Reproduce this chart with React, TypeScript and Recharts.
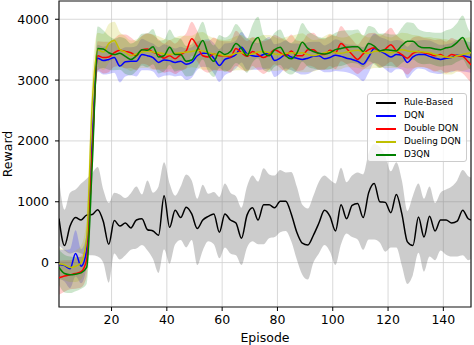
import React from "react";
import {
    ComposedChart,
    Line,
    Area,
    XAxis,
    YAxis,
    CartesianGrid,
    ReferenceArea,
} from "recharts";

// episodes sampled every 2nd step, plus the last one
const EPISODES = Array.from({length: 75}, (_, i) => 1 + 2 * i).concat([150]);

const RULE_MEAN = [
    725, 280, 600, 740, 700, 780, 790, 870, 680, 300,
    690, 600, 650, 570, 700, 720, 540, 520, 450, 1100,
    580, 860, 740, 910, 800, 560, 700, 760, 800, 500,
    800, 700, 650, 400, 780, 900, 700, 950, 950, 900,
    1010, 1010, 800, 500, 320, 290, 450, 650, 860, 760,
    520, 950, 720, 940, 970, 740, 1150, 1300, 1000, 990,
    820, 1120, 800, 340, 280, 750, 420, 760, 520, 700,
    700, 650, 680, 860, 720, 700];
const RULE_HIGH = [
    1380, 870, 1150, 1200, 1300, 1380, 1470, 1570, 1200, 980,
    1150, 1120, 1060, 1140, 1250, 1120, 1350, 1150, 1250, 1650,
    1300, 1100, 1250, 1450, 1350, 1050, 1280, 1130, 1160, 1080,
    1300, 1150, 1090, 900, 1250, 1430, 1330, 1550, 1450, 1430,
    1520, 1480, 1490, 1250, 950, 890, 1100, 1330, 1430, 1360,
    1300, 1560, 1320, 1430, 1480, 1450, 1800, 1950, 1900, 1750,
    1500, 1650, 1350, 850, 1100, 1300, 1050, 1250, 980, 1150,
    1200, 1250, 1350, 1520, 1420, 1400];
const RULE_LOW = [
    280, 200, 150, 180, 150, 120, 120, 100, 0, -330,
    150, 50, 120, 210, 230, 290, 200, 60, -170, 220,
    -20, 300, 370, 250, 370, -40, 200, 350, 300, 70,
    250, 150, 120, -40, 250, 350, 300, 300, 400, 420,
    500, 520, 350, 50, -200, -280, 0, 150, 290, 180,
    -40, 300, 480, 420, 380, 210, 380, 380, 330, 180,
    250, 250, -50, -350, -200, 160, -150, 100, 40, 200,
    130, 100, 100, 120, 40, 60];

const DQN = [
    -30, -50, -100, 150, -60, 200, 2000, 3360, 3320, 3340,
    3370, 3230, 3300, 3310, 3310, 3420, 3400, 3370, 3290, 3330,
    3320, 3290, 3310, 3260, 3290, 3400, 3440, 3440, 3360, 3240,
    3340, 3370, 3420, 3540, 3430, 3400, 3390, 3420, 3450, 3320,
    3360, 3420, 3380, 3360, 3340, 3360, 3390, 3400, 3350, 3370,
    3410, 3390, 3360, 3340, 3310, 3260, 3380, 3520, 3480, 3430,
    3380, 3420, 3410, 3290, 3380, 3420, 3420, 3390, 3360, 3340,
    3360, 3370, 3410, 3400, 3380, 3370];
const DQN_SPREAD = [
    240, 260, 320, 380, 280, 260, 400, 220, 230, 240,
    250, 270, 240, 230, 250, 260, 240, 230, 250, 260,
    240, 230, 240, 260, 250, 230, 220, 230, 250, 270,
    260, 240, 230, 250, 260, 230, 220, 240, 260, 270,
    250, 230, 220, 240, 250, 260, 240, 230, 220, 240,
    260, 250, 230, 240, 260, 280, 260, 240, 230, 250,
    260, 240, 230, 260, 250, 230, 240, 260, 250, 240,
    230, 240, 250, 260, 250, 250];

const DOUBLE_DQN = [
    -250, -220, -200, -180, -150, 50, 1800, 3400, 3370, 3380,
    3450, 3490, 3470, 3450, 3400, 3500, 3510, 3460, 3420, 3360,
    3400, 3350, 3420, 3480, 3680, 3560, 3400, 3380, 3430, 3400,
    3400, 3380, 3520, 3450, 3390, 3470, 3420, 3370, 3420, 3500,
    3450, 3400, 3480, 3400, 3400, 3500, 3500, 3430, 3420, 3490,
    3450, 3600, 3520, 3420, 3340, 3430, 3500, 3530, 3470, 3510,
    3580, 3480, 3420, 3360, 3440, 3470, 3450, 3430, 3400, 3420,
    3370, 3420, 3400, 3390, 3300, 3250];
const DOUBLE_SPREAD = [
    280, 260, 240, 250, 260, 280, 400, 240, 260, 250,
    230, 260, 280, 250, 240, 230, 260, 280, 250, 240,
    260, 250, 270, 290, 280, 250, 240, 260, 270, 250,
    240, 260, 290, 270, 250, 240, 260, 270, 250, 240,
    250, 260, 270, 250, 240, 260, 280, 260, 250, 260,
    270, 290, 260, 250, 240, 260, 270, 250, 260, 270,
    280, 260, 250, 270, 260, 250, 240, 250, 260, 250,
    260, 270, 260, 280, 290, 290];

const DUELING_DQN = [
    -20, -40, -80, -60, 0, 400, 2600, 3500, 3460, 3600,
    3650, 3500, 3460, 3400, 3430, 3460, 3480, 3460, 3450, 3430,
    3420, 3440, 3450, 3460, 3470, 3490, 3480, 3450, 3430, 3420,
    3400, 3410, 3440, 3450, 3420, 3430, 3460, 3470, 3450, 3430,
    3420, 3440, 3450, 3440, 3450, 3420, 3400, 3420, 3450, 3470,
    3450, 3440, 3460, 3480, 3490, 3460, 3440, 3470, 3480, 3460,
    3450, 3470, 3500, 3480, 3470, 3470, 3460, 3450, 3420, 3400,
    3380, 3370, 3400, 3420, 3440, 3450];
const DUELING_SPREAD = [
    260, 250, 240, 260, 280, 310, 450, 280, 300, 320,
    310, 290, 260, 250, 240, 260, 280, 290, 270, 250,
    240, 260, 280, 270, 260, 290, 310, 280, 260, 250,
    260, 270, 280, 290, 270, 260, 250, 270, 290, 280,
    260, 270, 280, 310, 320, 290, 260, 250, 270, 290,
    280, 260, 250, 270, 290, 280, 260, 270, 280, 260,
    250, 270, 280, 290, 270, 260, 250, 260, 270, 280,
    290, 280, 260, 270, 260, 260];

const D3QN = [
    -80, -180, -200, -190, -170, -80, 1600, 3520, 3510, 3450,
    3420, 3440, 3390, 3340, 3400, 3500, 3490, 3550, 3380, 3400,
    3540, 3420, 3420, 3310, 3330, 3500, 3650, 3420, 3310, 3470,
    3420, 3470, 3600, 3520, 3400, 3600, 3700, 3450, 3400, 3500,
    3540, 3400, 3350, 3440, 3620, 3520, 3470, 3440, 3430, 3450,
    3500, 3520, 3540, 3550, 3550, 3470, 3600, 3560, 3480, 3500,
    3490, 3480, 3570, 3640, 3640, 3560, 3530, 3530, 3510, 3500,
    3530, 3550, 3620, 3700, 3520, 3470];
const D3QN_SPREAD = [
    290, 310, 300, 280, 260, 270, 430, 360, 310, 280,
    260, 270, 290, 260, 250, 260, 280, 290, 270, 260,
    290, 280, 260, 250, 260, 290, 310, 280, 260, 270,
    280, 290, 320, 300, 280, 310, 340, 290, 270, 280,
    290, 270, 260, 280, 320, 300, 280, 270, 260, 270,
    280, 290, 280, 270, 280, 260, 290, 300, 280, 270,
    260, 270, 290, 310, 300, 280, 270, 260, 270, 280,
    290, 300, 320, 360, 320, 300];

const X_TICKS = [20, 40, 60, 80, 100, 120, 140];
const Y_TICKS = [0, 1000, 2000, 3000, 4000];

const SERIES = [
    {key: "rule", label: "Rule-Based", color: "#000000"},
    {key: "dqn", label: "DQN", color: "#0000ff"},
    {key: "double", label: "Double DQN", color: "#ff0000"},
    {key: "dueling", label: "Dueling DQN", color: "#bfbf00"},
    {key: "d3qn", label: "D3QN", color: "#008000"},
];

const band = (m: number[], s: number[], i: number) => [m[i] - s[i], m[i] + s[i]];

const data = EPISODES.map((ep, i) => ({
    ep,
    rule: RULE_MEAN[i],
    ruleBand: [RULE_LOW[i], RULE_HIGH[i]],
    dqn: DQN[i],
    dqnBand: band(DQN, DQN_SPREAD, i),
    double: DOUBLE_DQN[i],
    doubleBand: band(DOUBLE_DQN, DOUBLE_SPREAD, i),
    dueling: DUELING_DQN[i],
    duelingBand: band(DUELING_DQN, DUELING_SPREAD, i),
    d3qn: D3QN[i],
    d3qnBand: band(D3QN, D3QN_SPREAD, i),
}));

const FONT = "DejaVu Sans";
const tickStyle = {fontSize: 12.5, fill: "#000", fontFamily: FONT};

const XLabel = (props: any) => {
    const vb = props.viewBox || {x: 59, y: 307, width: 412, height: 38};
    return (
        <text x={vb.x + vb.width / 2} y={vb.y + vb.height - 3.5} textAnchor="middle"
              fontSize={12.5} fontFamily={FONT} fill="#000">Episode</text>
    );
};

const YLabel = (props: any) => {
    const vb = props.viewBox || {x: 0, y: 1, width: 59, height: 306};
    const x = vb.x + 11.5;
    const y = vb.y + vb.height / 2;
    return (
        <text x={x} y={y} transform={`rotate(-90 ${x} ${y})`} textAnchor="middle"
              fontSize={12.5} fontFamily={FONT} fill="#000">Reward</text>
    );
};

const LegendBox = () => (
    <div style={{
        position: "absolute", left: 367, top: 93, width: 100, height: 69,
        border: "1px solid #cccccc", borderRadius: 3, background: "rgba(255,255,255,0.8)",
        boxSizing: "border-box", fontFamily: FONT, fontSize: 8.8, color: "#000",
    }}>
        {SERIES.map((s, i) => (
            <div key={s.key} style={{position: "absolute", left: 0, top: 2 + Math.round(i * 12.9), height: 13, width: 98}}>
                <div style={{position: "absolute", left: 8, top: 6, width: 20, height: 2, background: s.color}}/>
                <div style={{position: "absolute", left: 36, top: 0, lineHeight: "13px", whiteSpace: "nowrap"}}>{s.label}</div>
            </div>
        ))}
    </div>
);

const App = () => {
    return (
        <div style={{position: "absolute", left: 0, top: 0, width: 474, height: 345, background: "#fff"}}>
            <ComposedChart width={474} height={345} data={data}
                           margin={{top: 1, right: 3, bottom: 0, left: 0}}>
                <CartesianGrid stroke="#cfcfcf" strokeWidth={0.8}/>
                <XAxis dataKey="ep" type="number" domain={[1, 150]} ticks={X_TICKS}
                       allowDataOverflow height={38} tickSize={4} tickMargin={4}
                       tick={tickStyle} axisLine={false} tickLine={{stroke: "#000"}}
                       label={<XLabel/>}/>
                <YAxis type="number" domain={[-730, 4300]} ticks={Y_TICKS}
                       allowDataOverflow width={59} tickSize={4} tickMargin={6}
                       tick={tickStyle} axisLine={false} tickLine={{stroke: "#000"}}
                       label={<YLabel/>}/>
                <Area dataKey="ruleBand" type="monotone" stroke="none" fill="#808080" fillOpacity={0.4}
                      isAnimationActive={false} dot={false} activeDot={false}/>
                <Line dataKey="rule" type="monotone" stroke="#000" strokeWidth={1.5} dot={false}
                      isAnimationActive={false}/>
                {SERIES.slice(1).map((s) => (
                    <Area key={s.key + "Band"} dataKey={s.key + "Band"} type="monotone" stroke="none"
                          fill={s.color} fillOpacity={0.2} isAnimationActive={false}
                          dot={false} activeDot={false}/>
                ))}
                {SERIES.slice(1).map((s) => (
                    <Line key={s.key} dataKey={s.key} type="monotone" stroke={s.color} strokeWidth={1.5}
                          dot={false} isAnimationActive={false}/>
                ))}
                <ReferenceArea x1={1} x2={150} y1={-730} y2={4300} fill="none"
                               stroke="#222" strokeWidth={1.2}/>
            </ComposedChart>
            <LegendBox/>
        </div>
    );
};

export default App;
